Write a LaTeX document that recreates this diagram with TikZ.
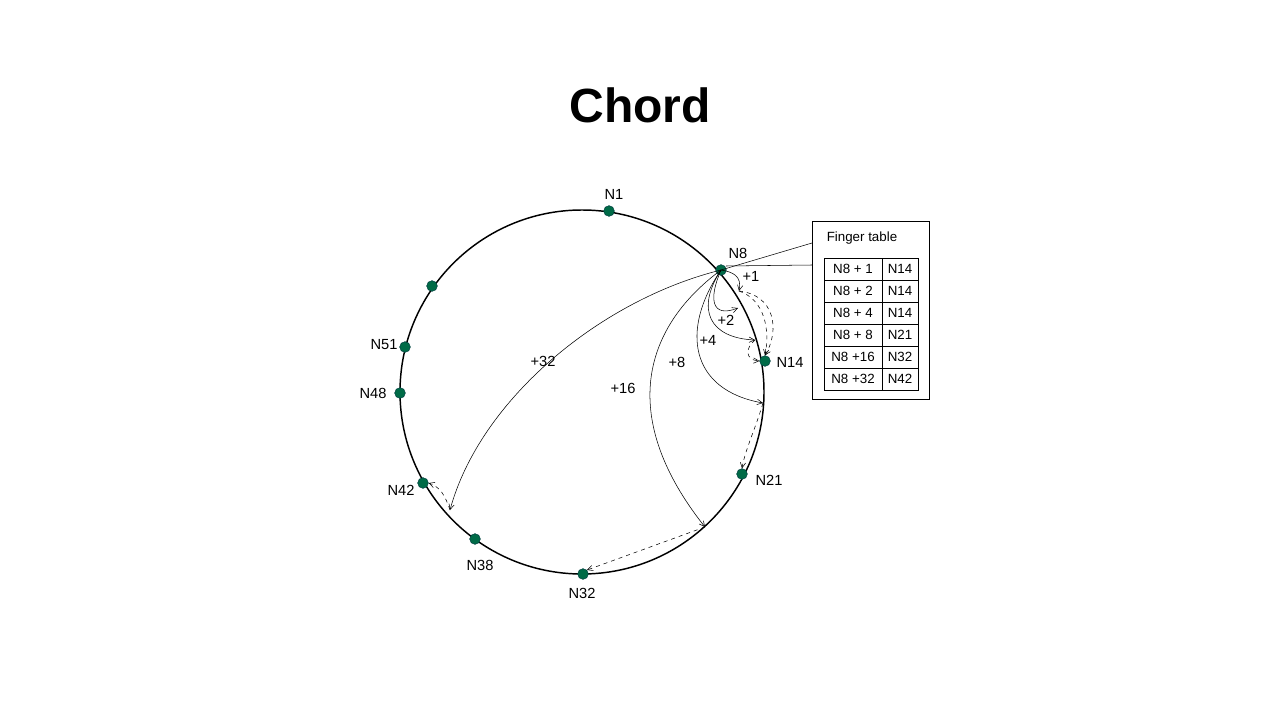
\documentclass[tikz,border=0pt]{standalone}
\usepackage{fontspec}
\setmainfont{Liberation Sans}
\usetikzlibrary{arrows.meta}
\begin{document}
\begin{tikzpicture}[x=0.75pt,y=-0.75pt,
  dot/.style={circle,fill=teal!80!green!70!black,draw=teal!50!black,inner sep=0pt,minimum size=8pt},
  lab/.style={font=\fontsize{11}{13}\selectfont},
  fing/.style={thin,-{Straight Barb[length=4pt,width=4pt]}},
  dsh/.style={thin,dashed,-{Straight Barb[length=4pt,width=4pt]}},
  cell/.style={font=\fontsize{10}{12}\selectfont}]
\useasboundingbox (0,0) rectangle (1280,720);
\node[font=\bfseries\fontsize{36}{40}\selectfont] (title) at (640,105) {Chord};
\draw[line width=1.1pt] (582,392) circle (182);
\node[dot] (n1) at (609,211) {};
\node[dot] (nx) at (432,286) {};
\node[dot] (n51) at (405,347) {};
\node[dot] (n48) at (400,393) {};
\node[dot] (n42) at (423,483) {};
\node[dot] (n38) at (475,539) {};
\node[dot] (n32) at (583,574) {};
\node[dot] (n21) at (742,474) {};
\node[dot] (n14) at (765,361) {};
\node[dot] (n8) at (721,270) {};
\node[lab] (l1) at (614,194) {N1};
\node[lab] (l8) at (738,253) {N8};
\node[lab] (l51) at (384,345) {N51};
\node[lab] (l48) at (373,393) {N48};
\node[lab] (l42) at (401,490) {N42};
\node[lab] (l38) at (480,565) {N38};
\node[lab] (l32) at (582,593) {N32};
\node[lab] (l21) at (769,480) {N21};
\node[lab] (l14) at (790,362) {N14};
\coordinate (e1) at (739,291);
\coordinate (e2) at (738,308);
\coordinate (e4) at (755,340);
\coordinate (e8) at (763,403);
\coordinate (e16) at (705,527);
\coordinate (e32) at (450,510);
\draw[fing] (n8.center) .. controls (733,272) and (742,276) .. (e1);
\draw[fing] (n8.center) .. controls (708,300) and (712,318) .. (e2);
\draw[fing] (n8.center) .. controls (695,310) and (710,338) .. (e4);
\draw[fing] (n8.center) .. controls (680,330) and (690,390) .. (e8);
\draw[fing] (n8.center) .. controls (640,330) and (620,420) .. (e16);
\draw[fing] (n8.center) .. controls (600,300) and (480,400) .. (e32);
\draw[dsh] (e1) .. controls (775,295) and (780,330) .. (n14.north);
\draw[dsh] (e1) .. controls (765,300) and (770,330) .. (n14.north);
\draw[dsh] (e4) .. controls (745,348) and (745,360) .. (n14.west);
\draw[dsh] (e8) .. controls (755,430) and (745,450) .. (n21.north);
\draw[dsh] (e16) -- (n32.north east);
\draw[dsh] (e32) .. controls (445,495) and (440,487) .. (n42.east);
\node[lab] at (751,276) {+1};
\node[lab] at (726,320) {+2};
\node[lab] at (708,340) {+4};
\node[lab] at (677,362) {+8};
\node[lab] at (623,388) {+16};
\node[lab] at (543,361) {+32};
\draw[thin,fill=white] (812,221) rectangle (929,399);
\node[font=\fontsize{10}{12}\selectfont] (ft) at (862,238) {Finger table};
\draw[thin] (812,243) -- (n8.center);
\draw[thin] (812,265) -- (726,266);
\draw[thin] (824,258) rectangle (918,390);
\draw[thin] (882,258) -- (882,390);
\foreach \y in {280,302,324,346,368} \draw[thin] (824,\y) -- (918,\y);
\foreach \a/\b [count=\i] in {N8 + 1/N14,N8 + 2/N14,N8 + 4/N14,N8 + 8/N21,N8 +16/N32,N8 +32/N42}{
  \node[cell] at (853,258+22*\i-11) {\a};
  \node[cell] at (900,258+22*\i-11) {\b};
}
\end{tikzpicture}
\end{document}
